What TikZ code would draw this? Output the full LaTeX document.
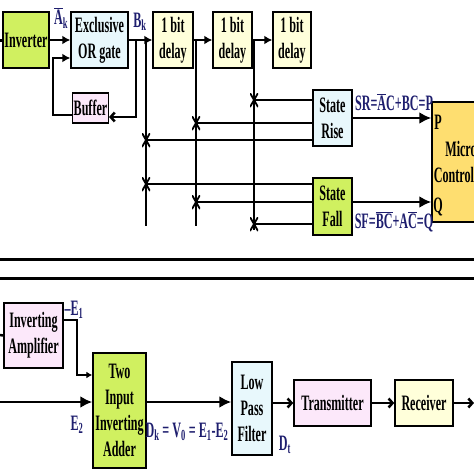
\documentclass[tikz,border=0pt]{standalone}
\usepackage{fontspec}
\setmainfont{Liberation Serif}[FakeStretch=0.55]
\usepackage{xcolor}
\usetikzlibrary{arrows.meta,positioning}
\definecolor{grn}{RGB}{208,240,96}
\definecolor{cyn}{RGB}{232,248,252}
\definecolor{pnk}{RGB}{252,232,250}
\definecolor{ylw}{RGB}{255,255,218}
\definecolor{org}{RGB}{254,222,112}
\definecolor{nvy}{RGB}{30,30,110}
\newcommand{\invbar}[1]{$\overline{\mbox{#1}}$}

\begin{document}
\begin{tikzpicture}[x=1pt,y=-1pt,font=\fontsize{22}{26}\selectfont\bfseries,
blk/.style={draw,line width=1.5pt,align=center,inner sep=1pt},
lbl/.style={text=nvy,inner sep=0pt},
arr/.style={-{Latex[length=8pt,width=9pt]},line width=2.5pt},
bigarr/.style={-{Latex[length=12pt,width=12pt]},line width=2.5pt},
thinarr/.style={-{Latex[length=6pt,width=7pt]},line width=1.8pt},
barb/.style={-{Straight Barb[length=4pt,width=9pt]},line width=2.5pt},
bus/.style={line width=1.8pt},
hline/.style={line width=2.6pt},
sep/.style={line width=3pt},
xmk/.style={minimum width=8pt,minimum height=14pt,inner sep=0pt,path picture={
  \draw[line width=1.8pt] (path picture bounding box.south west) -- (path picture bounding box.north east)
  (path picture bounding box.north west) -- (path picture bounding box.south east);}}]
\useasboundingbox (0,0) rectangle (474,474);
\clip (0,0) rectangle (474,474);
\node[blk,fill=grn,minimum width=46,minimum height=56] (inv) at (26,40) {Inverter};
\node[blk,fill=cyn,minimum width=57,minimum height=56] (xor) at (99.5,40) {Exclusive\\OR gate};
\node[blk,fill=pnk,minimum width=35,minimum height=30] (buf) at (90.5,108) {Buffer};
\node[blk,fill=ylw,minimum width=40,minimum height=56] (d1) at (173,40) {1 bit\\delay};
\node[blk,fill=ylw,minimum width=39,minimum height=56] (d2) at (232.5,40) {1 bit\\delay};
\node[blk,fill=ylw,minimum width=38,minimum height=56] (d3) at (292,40) {1 bit\\delay};
\node[blk,fill=cyn,minimum width=39,minimum height=56] (rise) at (332.5,118) {State\\Rise};
\node[blk,fill=grn,minimum width=39,minimum height=57] (fall) at (332.5,206.5) {State\\Fall};
\node[blk,fill=org,minimum width=58,minimum height=120] (mc) at (461,162) {Micro\\Controller};
\node[blk,fill=pnk,minimum width=59,minimum height=65] (amp) at (33.5,335.5) {Inverting\\Amplifier};
\node[blk,fill=grn,minimum width=53,minimum height=115] (add) at (119.5,410.5) {Two\\Input\\Inverting\\Adder};
\node[blk,fill=cyn,minimum width=40,minimum height=93] (lpf) at (252,408.5) {Low\\Pass\\Filter};
\node[blk,fill=pnk,minimum width=77,minimum height=46] (tx) at (332.5,403) {Transmitter};
\node[blk,fill=ylw,minimum width=58,minimum height=46] (rx) at (424,403) {Receiver};
\node[lbl] (akl) at (61,18) {\invbar{A}\textsubscript{k}};
\node[lbl] (bkl) at (140,22) {B\textsubscript{k}};
\node[lbl] (srl) at (394,102) {SR=\invbar{A}C+BC=P};
\node[lbl] (sfl) at (394,222) {SF=\invbar{B}\invbar{C}+A\invbar{C}=Q};
\node[inner sep=0pt] (pl) at (438,122) {P};
\node[inner sep=0pt] (ql) at (438,207) {Q};
\node[lbl] (e1l) at (74,310) {--E\textsubscript{1}};
\node[lbl] (e2l) at (77,425) {E\textsubscript{2}};
\node[lbl] (dkl) at (187,432) {D\textsubscript{k} = V\textsubscript{0} = E\textsubscript{1}-E\textsubscript{2}};
\node[lbl] (dtl) at (285,445) {D\textsubscript{t}};
\coordinate (in1) at (0,40); \coordinate (bk) at (136,40); \coordinate (fb) at (53,58);
\coordinate (ta) at (146,40); \coordinate (tb) at (196,40); \coordinate (tc) at (254,40);
\coordinate (tae) at (146,226); \coordinate (tbe) at (196,226); \coordinate (tce) at (254,230);
\coordinate (r1) at ([yshift=18pt]rise.west); \coordinate (r2) at ([yshift=-5pt]rise.west); \coordinate (r3) at ([yshift=-22pt]rise.west);
\coordinate (f1) at ([yshift=22.5pt]fall.west); \coordinate (f2) at ([yshift=4.5pt]fall.west); \coordinate (f3) at ([yshift=-17.5pt]fall.west);
\coordinate (fo) at ([yshift=4.5pt]fall.east);
\draw[line width=3pt] (in1) -- (inv.west);
\draw[arr] (inv) -- (xor); \draw[arr] (xor) -- (d1); \draw[arr] (d1) -- (d2); \draw[arr] (d2) -- (d3);
\draw[barb] (bk) |- ([yshift=-9pt]buf.east);
\draw[arr] ([yshift=-7pt]buf.west) -| (fb) -- (xor.west |- fb);
\draw[bus] (ta) -- (tae); \draw[bus] (tb) -- (tbe); \draw[bus] (tc) -- (tce);
\foreach \a/\b in {tc/r1,tb/r2,ta/r3,ta/f1,tb/f2,tc/f3}{
  \draw[hline] (\a |- \b) -- (\b);
  \node[xmk] (x\b) at (\a |- \b) {};
}
\draw[bigarr] (rise.east) -- (mc.west |- rise.east);
\draw[bigarr] (fo) -- (mc.west |- fo);
\coordinate (s1a) at (0,259); \coordinate (s1b) at (474,259);
\coordinate (s2a) at (0,278); \coordinate (s2b) at (474,278);
\draw[sep] (s1a) -- (s1b); \draw[sep] (s2a) -- (s2b);
\coordinate (ain) at (0,335); \coordinate (ea) at ([yshift=35.5pt]add.west);
\coordinate (e2) at (0,402); \coordinate (out) at (474,403);
\draw[line width=2.5pt] (ain) -- (amp.west);
\draw[thinarr] ([yshift=15.5pt]amp.east) -| ([xshift=-15pt]ea) -- (ea);
\draw[bigarr] (e2) -- (add.west |- e2);
\draw[bigarr] (add.east |- e2) -- (lpf.west |- e2);
\draw[barb] (lpf.east |- tx) -- (tx); \draw[barb] (tx) -- (rx); \draw[barb] (rx) -- (out);
\end{tikzpicture}
\end{document}
